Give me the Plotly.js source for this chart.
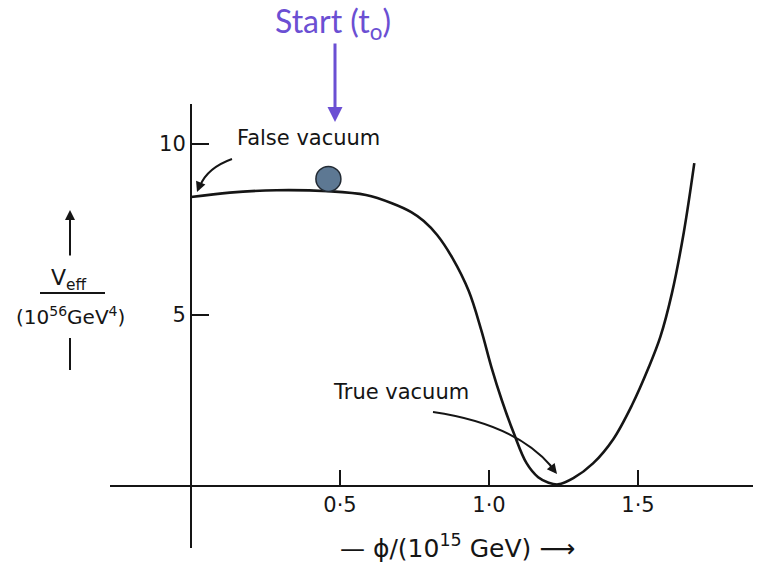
<!DOCTYPE html>
<html>
<head>
<meta charset="utf-8">
<script src="https://cdn.plot.ly/plotly-3.0.1.min.js"></script>
<style>html,body{margin:0;padding:0;background:#fff;}#chart{width:782px;height:580px;}</style>
</head>
<body>
<div id="chart"></div>
<script>
// Effective potential curve
const phi = [0.000, 0.130, 0.287, 0.461, 0.587, 0.674, 0.739, 0.781, 0.826, 0.877, 0.932, 0.974, 1.008, 1.043, 1.083, 1.126, 1.165, 1.200, 1.232, 1.283, 1.350, 1.417, 1.480, 1.535, 1.575, 1.614, 1.654, 1.689];
const veff = [8.45, 8.58, 8.65, 8.62, 8.51, 8.27, 8.01, 7.75, 7.34, 6.67, 5.70, 4.56, 3.48, 2.51, 1.55, 0.67, 0.26, 0.10, 0.05, 0.23, 0.67, 1.37, 2.37, 3.45, 4.36, 5.64, 7.43, 9.44];
// Ball (starting point)
const ballPhi = [0.461];
const ballV = [8.98];
// Tick labels
const xTickVals = [0.5, 1.0, 1.5];
const xTickText = ["0·5", "1·0", "1·5"];
const yTickVals = [5, 10];
const yTickText = ["5", "10"];

const W = 782, H = 580, ML = 110, MR = 29, MT = 104, MB = 32;
const PW = W - ML - MR, PH = H - MT - MB;
const X0 = -0.272, X1 = 1.886, Y0 = -1.81, Y1 = 11.17;
function pxX(p) { return (p - ML) / PW; }
function pxY(p) { return (H - MB - p) / PH; }

const ink = '#151515';
const purple = '#6b4fd3';
const labFont = {family: 'DejaVu Sans, sans-serif', size: 21, color: ink};

const traces = [
  {x: phi, y: veff, mode: 'lines', type: 'scatter', line: {color: ink, width: 2.6, shape: 'spline', smoothing: 1}, hoverinfo: 'skip'},
  {x: ballPhi, y: ballV, mode: 'markers', type: 'scatter', marker: {size: 25, color: '#5d7893', line: {color: '#222a33', width: 1.5}}, hoverinfo: 'skip'}
];

function txt(x, y, text, font) {
  return {xref: 'paper', yref: 'paper', x: pxX(x), y: pxY(y), xanchor: 'center', yanchor: 'middle',
          text: text, showarrow: false, font: font};
}
function arrow(x, y, ax, ay, color, width) {
  return {xref: 'paper', yref: 'paper', x: pxX(x), y: pxY(y), ax: ax, ay: ay, text: '', showarrow: true,
          xanchor: 'center', yanchor: 'middle',
          arrowhead: 2, arrowsize: 1, arrowwidth: width, arrowcolor: color};
}

const layout = {
  width: W, height: H,
  margin: {l: ML, r: MR, t: MT, b: MB},
  paper_bgcolor: '#fff', plot_bgcolor: '#fff',
  showlegend: false,
  xaxis: {
    range: [X0, X1], anchor: 'free', position: (0 - Y0) / (Y1 - Y0),
    showline: true, linecolor: ink, linewidth: 2,
    ticks: 'inside', ticklen: 15, tickwidth: 2, tickcolor: ink,
    tickmode: 'array', tickvals: xTickVals, ticktext: xTickText,
    tickfont: labFont, showgrid: false, zeroline: false, fixedrange: true
  },
  yaxis: {
    range: [Y0, Y1], anchor: 'free', position: (0 - X0) / (X1 - X0),
    showline: true, linecolor: ink, linewidth: 2,
    ticks: 'inside', ticklen: 17, tickwidth: 2, tickcolor: ink,
    tickmode: 'array', tickvals: yTickVals, ticktext: yTickText,
    tickfont: labFont, showgrid: false, zeroline: false, fixedrange: true
  },
  shapes: [
    {type: 'path', xref: 'paper', yref: 'paper',
     path: 'M ' + pxX(232) + ',' + pxY(159) + ' Q ' + pxX(207) + ',' + pxY(168) + ' ' + pxX(200) + ',' + pxY(186),
     line: {color: ink, width: 2}},
    {type: 'path', xref: 'paper', yref: 'paper',
     path: 'M ' + pxX(433) + ',' + pxY(412) + ' Q ' + pxX(515) + ',' + pxY(424) + ' ' + pxX(551) + ',' + pxY(466),
     line: {color: ink, width: 2}},
    {type: 'line', xref: 'paper', yref: 'paper', x0: pxX(40), x1: pxX(105), y0: pxY(293), y1: pxY(293), line: {color: ink, width: 2}},
    {type: 'line', xref: 'paper', yref: 'paper', x0: pxX(70), x1: pxX(70), y0: pxY(338), y1: pxY(370), line: {color: ink, width: 2}}
  ],
  annotations: [
    txt(333, 23, 'Start (t<sub>o</sub>)', {family: 'Lato, sans-serif', size: 32, color: purple}),
    arrow(335, 122, 0, -80, purple, 3),
    txt(308, 138, 'False vacuum', labFont),
    arrow(197, 192, 4, -10, ink, 2),
    txt(401, 392, 'True vacuum', labFont),
    arrow(557, 474, -8, -10, ink, 2),
    arrow(70, 210, 0, 47, ink, 2),
    txt(69, 279, 'V<sub>eff</sub>', {family: 'DejaVu Sans, sans-serif', size: 22, color: ink}),
    txt(70, 316, '(10<sup>56</sup>GeV<sup>4</sup>)', {family: 'DejaVu Sans, sans-serif', size: 20, color: ink}),
    txt(457, 546, '— ϕ/(10<sup>15</sup> GeV) ⟶', {family: 'DejaVu Sans, sans-serif', size: 25, color: ink})
  ]
};

Plotly.newPlot('chart', traces, layout, {staticPlot: true, displayModeBar: false});
</script>
</body>
</html>
